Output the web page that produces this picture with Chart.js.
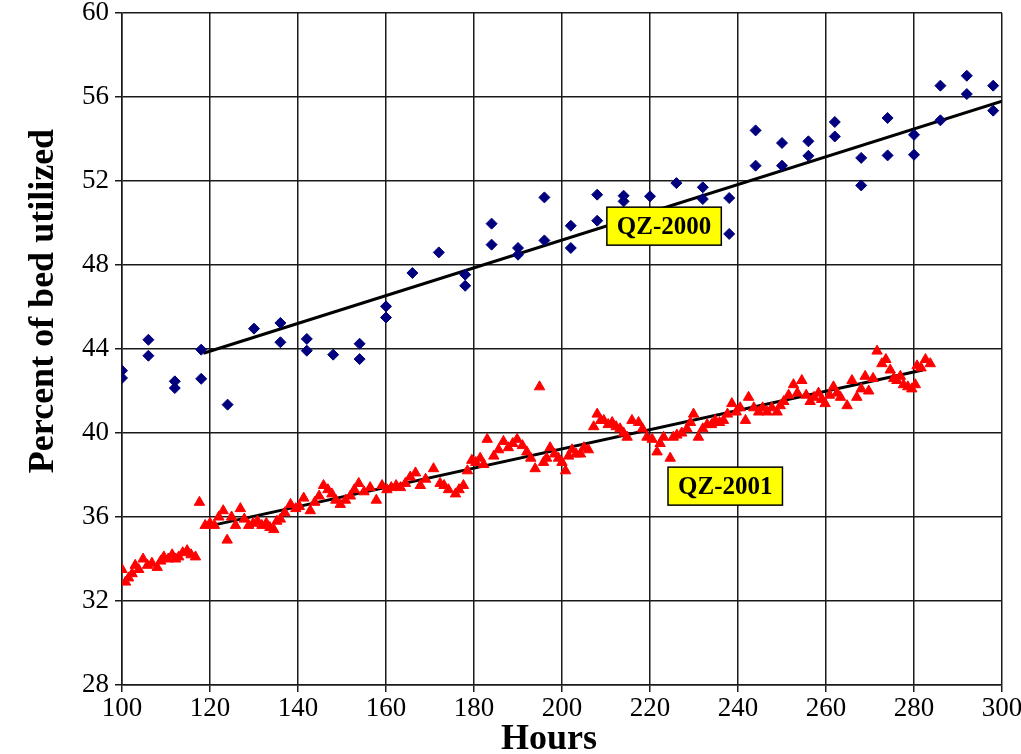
<!DOCTYPE html>
<html>
<head>
<meta charset="utf-8">
<script src="https://cdn.jsdelivr.net/npm/chart.js@4.4.0/dist/chart.umd.min.js"></script>
<style>
  body { margin: 0; background: #fff; }
  #wrap { width: 1021px; height: 754px; position: relative; }
</style>
</head>
<body>
<div id="wrap"><canvas id="bedChart"></canvas></div>
<script>
// QZ-2000 readings (hours, percent)
var blueX = [100,100,106,106,112,112,118,118,124,130,136,136,142,142,148,154,154,160,160,166,172,178,178,
             184,184,190,190,196,196,202,202,208,208,214,214,220,226,232,232,238,238,244,244,250,250,
             256,256,262,262,268,268,274,274,280,280,286,286,292,292,298,298];
var blueY = [42.97,42.62,44.44,43.68,42.46,42.14,43.97,42.58,41.35,44.97,45.24,44.32,44.48,43.92,43.73,44.25,43.52,46.03,45.5,47.62,48.6,47.54,47.01,
             49.97,48.97,48.81,48.49,51.22,49.17,49.87,48.81,51.35,50.11,51.3,51.03,51.27,51.9,51.7,51.14,51.19,49.48,54.41,52.73,53.81,52.73,
             53.89,53.2,54.81,54.12,53.1,51.79,55.0,53.22,54.2,53.25,56.54,54.89,57.01,56.14,56.54,55.35];

// QZ-2001 readings (hours, percent)
var redX = [100,100.8,101.5,102.3,103,103.8,104.8,105.8,106.8,108,108.8,109.5,110.5,111.4,112.2,112.9,113.8,114.8,115.7,116.7,
            117.6,118.9,120,121,122,123,123.9,124.9,125.8,126.9,127.8,128.8,129.8,130.8,131.8,132.8,133.6,134.5,135.2,136,
            137,138.3,139.5,140.3,141.3,142.8,143.8,144.8,145.8,146.8,147.7,148.6,149.6,150.8,151.9,152.8,153.8,155,156.4,157.8,
            159.1,160.2,161.2,162.3,163.3,164.4,165.5,166.7,167.8,169,170.8,172.3,173.2,174.2,175.8,176.6,177.6,178.5,179.5,180.4,
            181.4,182.2,183,184.5,185.6,186.7,187.8,188.8,189.8,191,192,192.9,193.9,194.9,195.8,196.5,197.3,198.3,199.2,200,
            200.8,201.5,202.3,203.2,204.2,205,206,207.2,208,208.8,209.5,210.5,211.4,212.3,213.2,214,214.8,215.9,217.4,218.3,
            219.3,220.5,221.6,222.3,223.1,224.6,225.3,226.1,227.2,228.4,229.2,229.9,231,232,233,234,234.8,235.8,236.7,237.6,
            238.6,239.6,240.5,241.7,242.4,243.6,244.7,245.6,246.6,247.7,248.9,249.6,250.4,251.5,252.6,253.5,254.5,255.5,256.4,257.3,
            258.3,259,259.8,260.8,261.7,262.5,263.3,264.8,265.9,267,268,268.9,269.7,270.7,271.6,272.7,273.6,274.6,275.4,276.1,
            276.9,277.6,278.6,279.5,280.3,280.7,281.6,282.6,283.7];
var redY = [33.5,32.9,33.1,33.3,33.7,33.5,34.0,33.7,33.8,33.6,33.9,34.1,34.0,34.2,34.0,34.1,34.3,34.4,34.2,34.1,
            36.7,35.6,35.7,35.6,36.0,36.3,34.9,36.0,35.6,36.4,35.9,35.6,35.7,35.8,35.6,35.7,35.5,35.4,35.8,35.9,
            36.2,36.6,36.4,36.5,36.9,36.3,36.7,37.0,37.5,37.3,37.1,36.8,36.6,36.8,37.0,37.3,37.6,37.2,37.4,36.8,
            37.5,37.3,37.4,37.5,37.4,37.6,37.9,38.1,37.5,37.8,38.3,37.6,37.5,37.3,37.1,37.3,37.5,38.2,38.7,38.6,
            38.8,38.5,39.7,38.9,39.2,39.6,39.3,39.5,39.7,39.4,39.1,38.8,38.3,42.2,38.6,38.8,39.3,39.0,38.8,38.6,
            38.2,38.9,39.2,39.0,39.0,39.3,39.2,40.3,40.9,40.6,40.6,40.4,40.5,40.3,40.2,40.0,39.8,40.6,40.5,40.2,
            39.8,39.7,39.1,39.5,39.8,38.8,39.8,39.9,40.0,40.2,40.5,40.9,39.8,40.2,40.4,40.4,40.6,40.5,40.6,40.9,
            41.4,41.0,41.2,40.6,41.7,41.2,41.0,41.2,41.0,41.2,41.0,41.3,41.5,41.8,42.3,41.9,42.5,41.8,41.5,41.7,
            41.9,41.6,41.4,41.8,42.2,41.9,41.7,41.3,42.5,41.7,42.1,42.7,42.0,42.6,43.9,43.3,43.5,43.0,42.6,42.5,
            42.7,42.3,42.2,42.1,42.3,43.2,43.1,43.5,43.3];

// fitted trend lines, end points
var blueTrendX = [118.5, 300];
var blueTrendY = [43.8, 55.8];
var redTrendX = [120.5, 282];
var redTrendY = [35.6, 43.0];

// series labels, anchored at data coordinates
var labelText = ["QZ-2000", "QZ-2001"];
var labelHour = [223.2, 237.1];
var labelPct = [49.85, 37.47];

var xTicks = [100,120,140,160,180,200,220,240,260,280,300];
var yTicks = [28,32,36,40,44,48,52,56,60];

function pts(xs, ys) {
  return xs.map(function (v, i) { return {x: v, y: ys[i]}; });
}

var serif = '"Liberation Serif", "Times New Roman", serif';

var overlay = {
  id: 'overlay',
  afterDraw: function (chart) {
    var ctx = chart.ctx;
    var xs = chart.scales.x, ys = chart.scales.y;
    ctx.save();
    // yellow label boxes
    ctx.font = 'bold 25px ' + serif;
    ctx.textAlign = 'center';
    ctx.textBaseline = 'middle';
    for (var i = 0; i < labelText.length; i++) {
      var cx = xs.getPixelForValue(labelHour[i]);
      var cy = ys.getPixelForValue(labelPct[i]);
      var w = ctx.measureText(labelText[i]).width + 20;
      var h = 38;
      ctx.fillStyle = '#ffff00';
      ctx.fillRect(cx - w / 2, cy - h / 2, w, h);
      ctx.lineWidth = 1.5;
      ctx.strokeStyle = '#000';
      ctx.strokeRect(cx - w / 2, cy - h / 2, w, h);
      ctx.fillStyle = '#000';
      ctx.fillText(labelText[i], cx, cy + 1);
    }
    // axis titles
    ctx.font = 'bold 36px ' + serif;
    ctx.fillStyle = '#000';
    ctx.fillText('Hours', 549, 740);
    ctx.translate(44, 301);
    ctx.rotate(-Math.PI / 2);
    ctx.fillText('Percent of bed utilized', 0, 0);
    ctx.restore();
  }
};

new Chart('bedChart', {
  type: 'scatter',
  data: {
    datasets: [
      {
        label: 'QZ-2000',
        data: pts(blueX, blueY),
        pointStyle: 'rectRot',
        pointRadius: 5.5,
        backgroundColor: '#00007f',
        borderColor: '#00007f',
        borderWidth: 1
      },
      {
        label: 'QZ-2001',
        data: pts(redX, redY),
        pointStyle: 'triangle',
        pointRadius: 6,
        backgroundColor: '#ff0000',
        borderColor: '#ff0000',
        borderWidth: 1
      },
      {
        label: 'QZ-2000 trend',
        data: pts(blueTrendX, blueTrendY),
        showLine: true,
        pointRadius: 0,
        borderColor: '#000',
        borderWidth: 3
      },
      {
        label: 'QZ-2001 trend',
        data: pts(redTrendX, redTrendY),
        showLine: true,
        pointRadius: 0,
        borderColor: '#000',
        borderWidth: 3
      }
    ]
  },
  options: {
    responsive: true,
    maintainAspectRatio: false,
    animation: false,
    layout: { padding: { top: 13, right: 19, left: 0, bottom: 0 } },
    plugins: {
      legend: { display: false },
      tooltip: { enabled: false }
    },
    scales: {
      x: {
        type: 'linear',
        min: 100,
        max: 300,
        afterBuildTicks: function (s) { s.ticks = xTicks.map(function (v) { return {value: v}; }); },
        afterFit: function (s) { s.height = 69; s.paddingLeft = 0; s.paddingRight = 0; },
        ticks: { font: { family: serif, size: 27 }, color: '#000', padding: 1, maxRotation: 0 },
        grid: { color: '#1a1a1a', lineWidth: 1.5, tickLength: 7 },
        border: { color: '#1a1a1a', width: 1.5 }
      },
      y: {
        min: 28,
        max: 60,
        afterBuildTicks: function (s) { s.ticks = yTicks.map(function (v) { return {value: v}; }); },
        afterFit: function (s) { s.width = 122; s.paddingTop = 0; s.paddingBottom = 0; },
        ticks: { font: { family: serif, size: 27 }, color: '#000', padding: 6 },
        grid: { color: '#1a1a1a', lineWidth: 1.5, tickLength: 7 },
        border: { color: '#1a1a1a', width: 1.5 }
      }
    }
  },
  plugins: [overlay]
});
</script>
</body>
</html>
